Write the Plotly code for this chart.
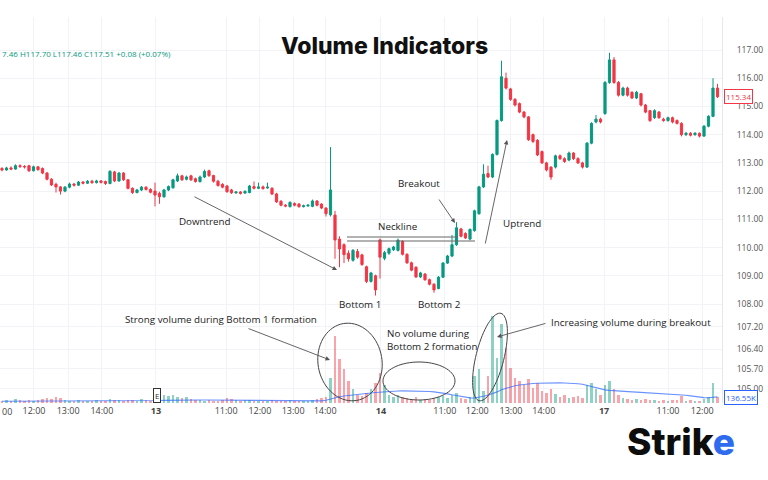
import numpy as np
import plotly.graph_objects as go

# ---------------- data ----------------
open_ = [112.80,112.75,112.82,112.78,112.90,112.87,112.90,112.72,112.86,112.80,
         112.64,112.42,112.24,112.15,112.00,112.14,112.25,112.21,112.32,112.28,
         112.35,112.30,112.36,112.34,112.27,112.68,112.36,112.64,112.40,112.10,
         111.95,112.04,112.14,112.06,112.00,111.92,111.80,112.04,112.12,112.36,
         112.54,112.42,112.54,112.44,112.34,112.50,112.72,112.55,112.35,112.24,
         112.18,112.04,111.94,111.97,111.93,111.95,112.16,112.10,112.15,112.11,
         112.10,111.90,111.64,111.50,111.45,111.56,111.54,111.45,111.48,111.46,
         111.65,111.54,111.40,111.16,111.15,110.30,110.10,109.80,109.55,109.86,
         109.74,109.32,108.80,109.00,110.27,109.62,109.80,109.92,109.90,110.22,
         109.76,109.46,109.30,108.96,109.06,108.86,108.70,108.55,108.95,109.45,
         109.70,110.10,110.66,110.50,110.30,110.60,111.20,112.15,112.62,112.50,
         113.30,114.50,116.00,115.62,115.25,115.10,114.80,114.63,114.00,113.80,
         113.40,113.00,112.85,112.85,113.25,113.15,113.10,113.35,113.15,113.00,
         112.85,113.70,114.45,114.55,114.75,115.85,116.65,115.85,115.40,115.65,
         115.50,115.30,115.45,115.05,114.85,114.60,114.80,114.55,114.50,114.60,
         114.50,114.40,114.00,114.05,114.00,114.05,113.95,114.30,114.65,115.65]
high = [112.85,112.86,112.88,112.95,112.95,112.92,112.93,112.90,112.89,112.84,
        112.68,112.46,112.30,112.18,112.18,112.30,112.29,112.36,112.36,112.39,
        112.40,112.40,112.39,112.37,112.74,112.72,112.68,112.67,112.43,112.13,
        112.08,112.18,112.17,112.10,112.30,111.98,112.08,112.20,112.44,112.62,
        112.58,112.55,112.58,112.48,112.55,112.76,112.76,112.58,112.40,112.28,
        112.22,112.08,112.00,112.00,112.03,112.22,112.34,112.30,112.20,112.30,
        112.14,111.94,111.68,111.54,111.64,111.60,111.58,111.52,111.54,111.70,
        111.68,111.57,111.43,113.56,111.30,110.40,110.15,109.90,109.95,109.95,
        109.78,109.36,109.14,109.04,110.32,109.88,110.00,110.06,110.32,110.26,
        109.80,109.50,109.34,109.14,109.10,108.90,108.74,108.99,109.49,109.74,
        110.45,110.90,110.70,110.54,110.68,111.34,112.19,112.95,112.90,113.34,
        114.54,116.62,116.20,115.66,115.30,115.14,114.84,114.66,114.04,113.84,
        113.44,113.04,112.88,113.29,113.30,113.20,113.40,113.38,113.20,113.04,
        113.74,114.44,114.70,114.60,115.90,116.90,116.75,115.90,115.70,115.70,
        115.54,115.55,115.48,115.09,114.88,114.90,114.84,114.60,114.64,114.64,
        114.54,114.44,114.10,114.09,114.09,114.08,114.34,114.69,116.00,115.80]
low = [112.70,112.72,112.74,112.76,112.82,112.80,112.68,112.70,112.72,112.60,
       112.38,112.18,111.95,111.88,111.96,112.10,112.16,112.18,112.24,112.25,
       112.26,112.27,112.27,112.22,112.24,112.32,112.33,112.36,112.06,111.90,
       111.92,112.00,112.02,111.92,111.46,111.55,111.76,112.00,112.08,112.32,
       112.36,112.38,112.36,112.30,112.30,112.46,112.50,112.30,112.16,112.10,
       111.94,111.90,111.90,111.88,111.90,111.92,112.06,112.07,112.05,112.08,
       111.86,111.58,111.46,111.43,111.42,111.46,111.41,111.42,111.44,111.43,
       111.46,111.36,111.10,111.10,109.60,109.30,109.45,109.50,109.50,109.60,
       109.35,108.74,108.76,108.30,108.90,109.55,109.74,109.88,109.86,109.72,
       109.42,109.16,108.92,108.92,108.82,108.66,108.40,108.52,108.92,109.42,
       109.66,110.06,110.36,110.30,110.26,110.56,111.16,112.11,112.46,112.46,
       113.26,114.46,115.60,115.20,115.00,114.76,114.58,113.78,113.70,113.24,
       112.96,112.70,112.40,112.80,113.10,113.00,113.06,113.10,112.96,112.80,
       112.82,113.66,114.40,114.40,114.70,115.80,115.80,115.35,115.36,115.35,
       115.26,115.26,115.00,114.76,114.45,114.56,114.56,114.46,114.46,114.40,
       114.36,113.94,113.95,113.94,113.96,113.90,113.92,114.26,114.62,115.30]
close = [112.75,112.82,112.78,112.90,112.87,112.86,112.72,112.86,112.76,112.64,
         112.42,112.22,112.15,112.00,112.14,112.25,112.21,112.32,112.28,112.35,
         112.30,112.36,112.31,112.27,112.70,112.36,112.64,112.40,112.10,111.95,
         112.04,112.14,112.06,111.96,111.86,111.80,112.04,112.16,112.40,112.54,
         112.40,112.50,112.40,112.34,112.50,112.70,112.55,112.35,112.20,112.14,
         111.98,111.94,111.97,111.92,111.99,112.18,112.10,112.15,112.09,112.14,
         111.90,111.62,111.50,111.47,111.60,111.50,111.45,111.48,111.50,111.65,
         111.50,111.40,111.20,112.04,110.27,109.95,109.75,109.60,109.90,109.66,
         109.40,108.80,109.10,108.50,109.66,109.82,109.96,110.02,110.26,109.76,
         109.46,109.20,108.96,109.10,108.86,108.70,108.50,108.95,109.45,109.70,
         110.10,110.70,110.40,110.34,110.64,111.30,112.15,112.60,112.50,113.30,
         114.50,116.05,115.65,115.25,115.05,114.80,114.63,113.82,113.76,113.28,
         113.00,112.75,112.50,113.25,113.15,113.05,113.35,113.15,113.00,112.85,
         113.70,114.40,114.55,114.45,115.85,116.65,115.85,115.40,115.65,115.40,
         115.30,115.50,115.05,114.80,114.50,114.85,114.60,114.50,114.60,114.45,
         114.40,114.00,114.05,113.98,114.05,113.95,114.30,114.65,115.65,115.34]
volume_k = [45,68,45,90,68,45,68,45,68,90,
            113,90,135,113,68,45,45,68,45,45,
            45,68,45,45,90,68,68,45,68,68,
            45,90,68,45,135,113,180,158,180,135,
            113,135,90,68,68,45,68,45,45,68,
            113,90,68,45,68,68,45,45,45,45,
            68,45,45,45,68,45,45,45,45,68,
            90,113,135,563,1508,990,765,495,315,180,
            158,225,315,450,675,405,180,135,180,135,
            113,90,135,68,90,68,113,135,158,113,
            180,225,113,90,135,608,765,270,608,1958,
            1013,1778,1238,788,563,495,405,540,338,450,
            270,225,315,203,135,180,113,135,158,113,
            405,450,315,180,405,495,315,180,113,90,
            68,90,68,90,68,68,45,68,45,68,
            68,158,45,68,45,45,90,135,450,135]
volume_ma_k = [40,40,41,42,42,42,43,44,45,46,
               47,48,49,50,50,50,49,49,48,48,
               47,47,47,46,46,46,46,46,46,46,
               46,47,48,49,52,55,58,61,64,66,
               67,68,68,68,68,67,66,65,64,63,
               62,62,61,60,59,58,57,56,55,54,
               53,52,51,50,50,49,48,48,47,47,
               47,48,60,90,120,140,158,172,186,196,
               206,216,226,236,246,255,262,268,270,272,
               272,272,270,268,265,258,250,238,222,205,
               185,165,145,128,115,112,125,150,175,210,
               250,300,335,365,390,405,420,430,438,444,
               448,450,452,452,452,450,447,442,434,420,
               395,360,330,310,295,285,275,268,262,256,
               250,245,240,235,230,225,220,215,210,205,
               200,190,175,160,145,130,120,118,128,137]
x_tick_pos = [7.1, 14.7, 22.2, 34.2, 49.8, 57.3, 64.7, 71.8, 84.2,
              98.4, 105.6, 113.1, 120.4, 133.8, 148.0, 155.6]
x_tick_text = ["12:00", "13:00", "14:00", "<b>13</b>", "11:00", "12:00", "13:00",
               "14:00", "<b>14</b>", "11:00", "12:00", "13:00", "14:00",
               "<b>17</b>", "11:00", "12:00"]
price_ticks = [117.0, 116.0, 115.0, 114.0, 113.0, 112.0, 111.0, 110.0, 109.0,
               108.0, 107.2, 106.4, 105.7, 105.0]
last_price = 115.34
last_volume_ma_label = "136.55K"
ohlc_text = "7.46 H117.70 L117.46 C117.51 +0.08 (+0.07%)"
title_text = "Volume Indicators"

# ---------------- layout geometry ----------------
W, H = 768, 480
ML, MR, MT, MB = 0, 46, 17, 77
PW, PH = W - ML - MR, H - MT - MB
BOTTOM = MT + PH


def pxx(x):
    return (x - ML) / PW


def pxy(y):
    return (BOTTOM - y) / PH


UP, DOWN = "#089981", "#f23645"
UP_V, DOWN_V = "rgba(8,153,129,0.45)", "rgba(242,54,69,0.45)"
TXT = "#222"
FONT = "Open Sans"

n = len(close)
idx = list(range(n))
vol_colors = [UP_V if c >= o else DOWN_V for o, c in zip(open_, close)]

fig = go.Figure()
fig.add_trace(go.Candlestick(
    x=idx, open=open_, high=high, low=low, close=close,
    increasing=dict(line=dict(color=UP, width=1), fillcolor=UP),
    decreasing=dict(line=dict(color=DOWN, width=1), fillcolor=DOWN),
    whiskerwidth=0, showlegend=False, yaxis="y"))
fig.add_trace(go.Bar(x=idx, y=volume_k, marker=dict(color=vol_colors, line=dict(width=0)),
                     width=0.62, yaxis="y2", showlegend=False))
fig.add_trace(go.Scatter(x=idx, y=volume_ma_k, mode="lines",
                         line=dict(color="rgba(41,98,255,0.7)", width=1.1),
                         yaxis="y2", showlegend=False))

# axis ranges: candle index -> pixel (2 + 4.5*i); price: 117 @ y50, 108 @ y304
ppu = (304 - 50) / 9.0
y_top = 117 + (50 - MT) / ppu
y_bot = 108 - (BOTTOM - 304) / ppu
x_lo = (0 - 2) / 4.5
x_hi = (PW - 2) / 4.5
vol_per_px = 22.5

fig.update_layout(
    width=W, height=H, margin=dict(l=ML, r=MR, t=MT, b=MB),
    paper_bgcolor="white", plot_bgcolor="white",
    font=dict(family=FONT, color=TXT, size=9),
    xaxis=dict(range=[x_lo, x_hi], rangeslider=dict(visible=False),
               tickvals=x_tick_pos, ticktext=x_tick_text, ticks="",
               tickfont=dict(size=9, color="#444"), ticklabelstandoff=1,
               showgrid=True, gridcolor="#f1f3f7", zeroline=False,
               showline=False, automargin=False),
    yaxis=dict(range=[y_bot, y_top], side="right", tickvals=price_ticks,
               ticktext=[f"{v:.2f}" for v in price_ticks], ticks="",
               tickfont=dict(size=8.5, color="#555"), ticklabelstandoff=12,
               showgrid=True, gridcolor="#f1f3f7", zeroline=False,
               showline=True, linecolor="#e6e8ee", automargin=False),
    yaxis2=dict(range=[0, PH * vol_per_px], overlaying="y", visible=False),
    bargap=0,
)

ann = []


def txt(text, x, y, size=10, color=TXT, xanchor="center", **kw):
    d = dict(x=pxx(x), y=pxy(y), xref="paper", yref="paper", text=text,
             showarrow=False, xanchor=xanchor, yanchor="middle",
             font=dict(size=size, color=color))
    d.update(kw)
    return d


# title & top-left OHLC line
ann.append(dict(txt(title_text, 384, 46), font=dict(family="Inter", size=23, color="#111", weight=800)))
ann.append(txt(ohlc_text, 0, 53, size=8, color=UP, xanchor="left"))
ann.append(txt("00", 0, 411, size=9, color="#444", xanchor="left"))

# text labels
labels = [("Downtrend", 205, 221), ("Neckline", 398, 227), ("Breakout", 419, 183),
          ("Uptrend", 522, 223), ("Bottom 1", 360, 304), ("Bottom 2", 440, 304),
          ("Strong volume during Bottom 1 formation", 221, 319),
          ("Increasing volume during breakout", 631, 322)]
for t, x, y in labels:
    ann.append(txt(t, x, y, size=9.8))
ann.append(txt("No volume during<br>Bottom 2 formation", 385, 340, size=9.8,
               xanchor="left", align="left"))

# arrows (tail -> head, in pixels)
arrows = [((193, 196), (337, 270)), ((485, 245), (507, 140)), ((438, 198), (455, 223)),
          ((247, 328), (330, 360)), ((547, 323), (497, 337))]
for (tx, ty), (hx, hy) in arrows:
    ann.append(dict(x=pxx(hx), y=pxy(hy), xref="paper", yref="paper", text="",
                    showarrow=True, arrowhead=2, arrowsize=1.0, arrowwidth=0.9,
                    arrowcolor="#555", ax=tx - hx, ay=ty - hy, axref="pixel", ayref="pixel"))

# price / volume labels on the right scale
ann.append(dict(x=pxx(724), y=last_price, xref="paper", yref="y", xanchor="left",
                yanchor="middle", text=f"{last_price:.2f}", showarrow=False,
                bgcolor="white", bordercolor=DOWN, borderwidth=1, borderpad=1,
                font=dict(size=8, color=DOWN)))
ann.append(txt(last_volume_ma_label, 724, 397, size=8, color="#2962ff", xanchor="left",
               bgcolor="white", bordercolor="#2962ff", borderwidth=1, borderpad=1))
# earnings marker
ann.append(txt("E", 157, 395, size=8, color="#333", bgcolor="white",
               bordercolor="#333", borderwidth=1, borderpad=1))
# logo
ann.append(dict(txt("Strik<span style='color:#2f6bef'>e</span>", 681, 442),
                font=dict(family="Inter", size=37, color="#0d0d0d", weight=800)))
fig.update_layout(annotations=ann)


# ellipses and neckline
def ellipse_path(cx, cy, a, b, ang_deg):
    t = np.linspace(0, 2 * np.pi, 73)
    ang = np.deg2rad(ang_deg)
    xs = cx + a * np.cos(t) * np.cos(ang) - b * np.sin(t) * np.sin(ang)
    ys = cy + a * np.cos(t) * np.sin(ang) + b * np.sin(t) * np.cos(ang)
    pts = [f"{pxx(x):.5f},{pxy(y):.5f}" for x, y in zip(xs, ys)]
    return "M" + " L".join(pts) + " Z"


shapes = []
for cx, cy, a, b, ang in [(350, 362, 39, 32, 80), (419, 381, 36, 19, 0), (490, 357, 45, 14, -76)]:
    shapes.append(dict(type="path", path=ellipse_path(cx, cy, a, b, ang), xref="paper",
                       yref="paper", line=dict(color="#444", width=1)))
for y, x1 in [(237, 458), (241, 475)]:
    shapes.append(dict(type="line", xref="paper", yref="paper", x0=pxx(347), x1=pxx(x1),
                       y0=pxy(y), y1=pxy(y), line=dict(color="#666", width=1)))
fig.update_layout(shapes=shapes)

fig.write_html("out.html")
